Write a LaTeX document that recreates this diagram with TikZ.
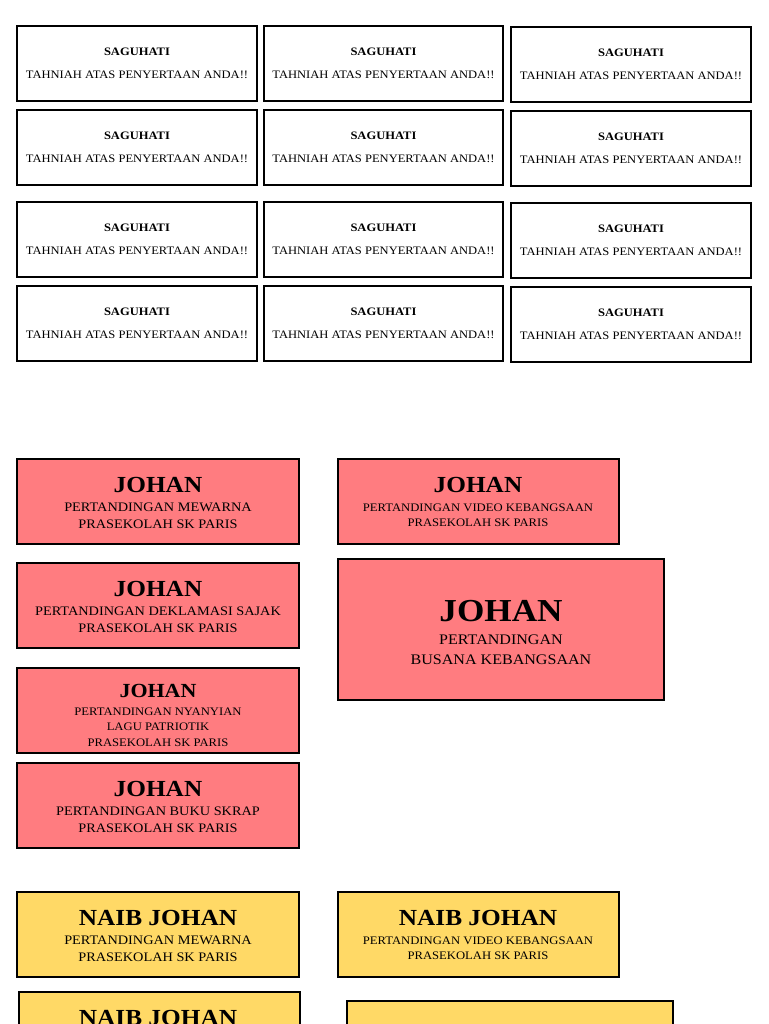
\documentclass[tikz,border=0pt]{standalone}
\usepackage{fontspec}
\setmainfont[FakeStretch=1.1]{Liberation Serif}
\begin{document}
\begin{tikzpicture}[x=1pt,y=-1pt,
  sg/.style={draw=black,line width=1.2pt,fill=white},
  rd/.style={draw=black,line width=1.2pt,fill={rgb,255:red,255;green,124;blue,128}},
  yl/.style={draw=black,line width=1.2pt,fill={rgb,255:red,255;green,217;blue,102}},
  tt/.style={inner sep=0pt,anchor=center}]
\useasboundingbox (0,0) rectangle (768,1024);
\fill[white] (0,0) rectangle (768,1024);
% SAGUHATI grid
\foreach \c/\xa/\xb/\d in {1/17/257/0,2/264/503/0,3/511/751/1}{
 \foreach \r/\ya in {1/26,2/110,3/202,4/286}{
  \pgfmathsetmacro{\yy}{\ya+\d}
  \pgfmathsetmacro{\yb}{\yy+75}
  \pgfmathsetmacro{\xm}{(\xa+\xb)/2}
  \draw[sg] (\xa,\yy) rectangle (\xb,\yb);
  \node[tt,font=\bfseries\fontsize{11.4}{13}\selectfont] (s\c\r) at (\xm,\yy+26) {SAGUHATI};
  \node[tt,font=\fontsize{11.4}{13}\selectfont] (t\c\r) at (\xm,\yy+49) {TAHNIAH ATAS PENYERTAAN ANDA!!};
 }}
% JOHAN red
\draw[rd] (17,459) rectangle (299,544);
\node[tt,font=\bfseries\fontsize{23}{26}\selectfont] (j1) at (158,485) {JOHAN};
\node[tt,font=\fontsize{13}{17}\selectfont,align=center] (j1s) at (158,516) {PERTANDINGAN MEWARNA\\PRASEKOLAH SK PARIS};
\draw[rd] (338,459) rectangle (619,544);
\node[tt,font=\bfseries\fontsize{23}{26}\selectfont] (j2) at (478,485) {JOHAN};
\node[tt,font=\fontsize{11.5}{15.5}\selectfont,align=center] (j2s) at (478,515) {PERTANDINGAN VIDEO KEBANGSAAN\\PRASEKOLAH SK PARIS};
\draw[rd] (17,563) rectangle (299,648);
\node[tt,font=\bfseries\fontsize{23}{26}\selectfont] (j3) at (158,589) {JOHAN};
\node[tt,font=\fontsize{13}{17}\selectfont,align=center] (j3s) at (158,620) {PERTANDINGAN DEKLAMASI SAJAK\\PRASEKOLAH SK PARIS};
\draw[rd] (338,559) rectangle (664,700);
\node[tt,font=\bfseries\fontsize{32}{35}\selectfont] (j4) at (501,611) {JOHAN};
\node[tt,font=\fontsize{14.6}{20}\selectfont,align=center] (j4s) at (501,650) {PERTANDINGAN\\BUSANA KEBANGSAAN};
\draw[rd] (17,668) rectangle (299,753);
\node[tt,font=\bfseries\fontsize{20}{23}\selectfont] (j5) at (158,691) {JOHAN};
\node[tt,font=\fontsize{11.5}{15.5}\selectfont,align=center] (j5s) at (158,727) {PERTANDINGAN NYANYIAN\\LAGU PATRIOTIK\\PRASEKOLAH SK PARIS};
\draw[rd] (17,763) rectangle (299,848);
\node[tt,font=\bfseries\fontsize{23}{26}\selectfont] (j6) at (158,789) {JOHAN};
\node[tt,font=\fontsize{13}{17}\selectfont,align=center] (j6s) at (158,820) {PERTANDINGAN BUKU SKRAP\\PRASEKOLAH SK PARIS};
% NAIB JOHAN yellow
\draw[yl] (17,892) rectangle (299,977);
\node[tt,font=\bfseries\fontsize{23}{26}\selectfont] (n1) at (158,918) {NAIB JOHAN};
\node[tt,font=\fontsize{13}{17}\selectfont,align=center] (n1s) at (158,949) {PERTANDINGAN MEWARNA\\PRASEKOLAH SK PARIS};
\draw[yl] (338,892) rectangle (619,977);
\node[tt,font=\bfseries\fontsize{23}{26}\selectfont] (n2) at (478,918) {NAIB JOHAN};
\node[tt,font=\fontsize{11.5}{15.5}\selectfont,align=center] (n2s) at (478,948) {PERTANDINGAN VIDEO KEBANGSAAN\\PRASEKOLAH SK PARIS};
\draw[yl] (19,992) rectangle (300,1040);
\node[tt,font=\bfseries\fontsize{23}{26}\selectfont] (n3) at (158,1018) {NAIB JOHAN};
\draw[yl] (347,1001) rectangle (673,1040);
\end{tikzpicture}
\end{document}
